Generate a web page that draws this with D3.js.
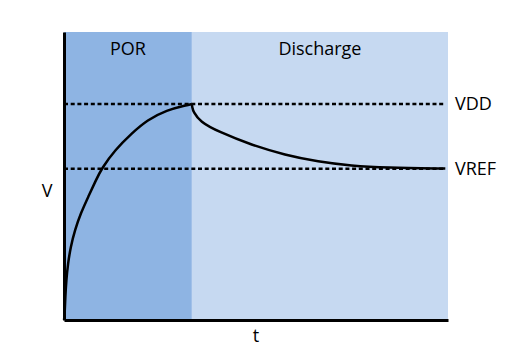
<!DOCTYPE html>
<html>
<head>
<meta charset="utf-8">
<script src="https://cdn.jsdelivr.net/npm/d3@7"></script>
<style>
  body { margin: 0; background: #fff; }
  text { font-family: "Open Sans", sans-serif; fill: #000; }
</style>
</head>
<body>
<div id="chart"></div>
<script>
// phases (time in % of the window)
const phases = ["POR", "Discharge"];
const phaseStart = [0, 33.3];
const phaseEnd = [33.3, 100];
const phaseColors = ["#8eb4e3", "#c6d9f1"];

// reference levels
const levelNames = ["VDD", "VREF"];
const levelValues = [1.0, 0.70];

// voltage curve (power-on ramp, then discharge)
const riseT = [0, 0.18, 0.34, 0.60, 1.04, 1.74, 2.86, 4.35, 6.33, 8.33, 9.82,
  13.28, 17.63, 21.69, 26.74, 31.95, 33.3];
const riseV = [0, 0.023, 0.108, 0.185, 0.262, 0.339, 0.417, 0.494, 0.571, 0.648, 0.702,
  0.787, 0.864, 0.926, 0.972, 0.995, 1.0];
const fallT = [33.3, 33.4, 33.67, 35.42, 40.18, 48.88, 57.55, 66.15, 74.92, 83.6, 99.3];
const fallV = [1.0, 0.985, 0.964, 0.918, 0.872, 0.81, 0.764, 0.733, 0.714, 0.705, 0.701];

const margin = { top: 32, right: 64, bottom: 32, left: 64 },
  width = 512 - margin.left - margin.right,
  height = 352 - margin.top - margin.bottom;

const svg = d3.select("#chart")
  .append("svg")
  .attr("width", 512)
  .attr("height", 352)
  .append("g")
  .attr("transform", `translate(${margin.left},${margin.top})`);

const x = d3.scaleLinear().domain([0, 100]).range([0, width]);
const y = d3.scaleLinear().domain([0, 1.3333]).range([height, 0]);

// phase backgrounds
svg.selectAll("rect.phase")
  .data(phases)
  .join("rect")
  .attr("class", "phase")
  .attr("x", (d, i) => x(phaseStart[i]))
  .attr("y", 0)
  .attr("width", (d, i) => x(phaseEnd[i]) - x(phaseStart[i]))
  .attr("height", height)
  .attr("fill", (d, i) => phaseColors[i]);

svg.selectAll("text.phase")
  .data(phases)
  .join("text")
  .attr("class", "phase")
  .attr("x", (d, i) => x((phaseStart[i] + phaseEnd[i]) / 2))
  .attr("y", 23)
  .attr("text-anchor", "middle")
  .style("font-size", "18px")
  .text(d => d);

// dashed level lines
svg.selectAll("line.level")
  .data(levelValues)
  .join("line")
  .attr("class", "level")
  .attr("x1", x(0))
  .attr("x2", x(99.3))
  .attr("y1", d => y(d))
  .attr("y2", d => y(d))
  .attr("stroke", "#000")
  .attr("stroke-width", 2.5)
  .attr("stroke-dasharray", "4,2.7");

svg.selectAll("text.level")
  .data(levelNames)
  .join("text")
  .attr("class", "level")
  .attr("x", width + 7)
  .attr("y", (d, i) => y(levelValues[i]) + 6)
  .style("font-size", "18px")
  .text(d => d);

// voltage curve
const line = d3.line()
  .x(d => x(d[0]))
  .y(d => y(d[1]))
  .curve(d3.curveBasis);

[[riseT, riseV], [fallT, fallV]].forEach(([ts, vs]) => {
  svg.append("path")
    .datum(ts.map((t, i) => [t, vs[i]]))
    .attr("d", line)
    .attr("fill", "none")
    .attr("stroke", "#000")
    .attr("stroke-width", 2.5)
    .attr("stroke-linejoin", "round");
});

// axes (no ticks)
svg.append("g")
  .attr("transform", `translate(0,${height})`)
  .call(d3.axisBottom(x).tickValues([]).tickSizeOuter(0))
  .select(".domain")
  .attr("stroke-width", 3);

svg.append("g")
  .call(d3.axisLeft(y).tickValues([]).tickSizeOuter(0))
  .select(".domain")
  .attr("stroke-width", 3);

// axis labels
svg.append("text")
  .attr("x", -17)
  .attr("y", 165)
  .attr("text-anchor", "middle")
  .style("font-size", "18px")
  .text("V");

svg.append("text")
  .attr("x", x(50))
  .attr("y", 310)
  .attr("text-anchor", "middle")
  .style("font-size", "18px")
  .text("t");
</script>
</body>
</html>
